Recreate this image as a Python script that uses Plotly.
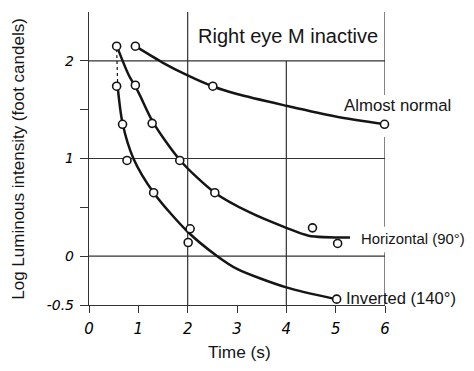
import plotly.graph_objects as go

# Measured points
normal_x = [0.94, 2.51, 5.99]
normal_y = [2.15, 1.74, 1.35]
horiz_x = [0.56, 0.94, 1.28, 1.84, 2.55, 4.53, 5.04]
horiz_y = [2.15, 1.75, 1.36, 0.98, 0.65, 0.29, 0.13]
inv_x = [0.56, 0.68, 0.77, 1.31, 2.05, 2.01, 5.02]
inv_y = [1.74, 1.35, 0.98, 0.65, 0.28, 0.14, -0.44]

# Fitted curves
normal_cx = [0.94, 1.5, 2.0, 2.5, 3.0, 4.0, 5.0, 6.0]
normal_cy = [2.15, 1.98, 1.85, 1.74, 1.66, 1.54, 1.43, 1.35]
horiz_cx = [0.58, 0.8, 1.0, 1.3, 1.85, 2.55, 3.25, 4.0, 4.45, 5.29]
horiz_cy = [2.13, 1.86, 1.68, 1.37, 0.98, 0.65, 0.45, 0.29, 0.21, 0.19]
inv_cx = [0.58, 0.68, 0.9, 1.31, 2.0, 2.6, 3.0, 4.0, 5.0]
inv_cy = [1.74, 1.36, 1.0, 0.65, 0.25, 0.0, -0.13, -0.32, -0.44]

# dashed connector
dash_x = [0.56, 0.58]
dash_y = [2.12, 1.78]

x_ticks = [0, 1, 2, 3, 4, 5, 6]
y_ticks = [-0.5, 0, 0.5, 1, 1.5, 2]
y_ticktext = ["-0.5", "0", "", "1", "", "2"]

INK = "#151515"
GRID = "#333333"
FONT = "Liberation Sans, Arial, sans-serif"

fig = go.Figure()

for cx, cy in [(normal_cx, normal_cy), (horiz_cx, horiz_cy), (inv_cx, inv_cy)]:
    fig.add_trace(go.Scatter(x=cx, y=cy, mode="lines", line=dict(color=INK, width=2.5, shape="spline", smoothing=0.8),
                             hoverinfo="skip", showlegend=False, cliponaxis=False))

fig.add_trace(go.Scatter(x=dash_x, y=dash_y, mode="lines", line=dict(color=INK, width=1.2, dash="3px,3px"),
                         showlegend=False, hoverinfo="skip"))

for px, py in [(normal_x, normal_y), (horiz_x, horiz_y), (inv_x, inv_y)]:
    fig.add_trace(go.Scatter(x=px, y=py, mode="markers",
                             marker=dict(symbol="circle", size=8, color="white", line=dict(color=INK, width=1.6)),
                             showlegend=False, cliponaxis=False))

# grid lines drawn as shapes
lines = [
    (0, 2, 6, 2), (0, 1, 6, 1), (0, 0, 6, 0),
    (2, -0.5, 2, 2.5), (4, -0.5, 4, 2.0),
    (6, 2.5, 6, 1.65), (6, 1.22, 6, 0.30), (6, 0.04, 6, -0.5),
]
for x0, y0, x1, y1 in lines:
    fig.add_shape(type="line", x0=x0, y0=y0, x1=x1, y1=y1, xref="x", yref="y",
                  line=dict(color=GRID, width=1.2), layer="below")

ann = dict(showarrow=False, xanchor="left", yanchor="middle")
fig.add_annotation(x=5.13, y=1.54, text="Almost normal", font=dict(family=FONT, size=16.8, color=INK), **ann)
fig.add_annotation(x=5.47, y=0.18, text="Horizontal (90°)", font=dict(family=FONT, size=14.9, color=INK), **ann)
fig.add_annotation(x=5.17, y=-0.43, text="Inverted (140°)", font=dict(family=FONT, size=16.6, color=INK), **ann)
fig.add_annotation(x=2.16, y=2.25, text="Right eye M inactive",
                   font=dict(family=FONT, size=20, color=INK), **ann)

fig.add_annotation(xref="paper", yref="paper", x=-0.239, y=0.5, text="Log Luminous intensity (foot candels)",
                   textangle=-90, font=dict(family=FONT, size=17, color=INK), showarrow=False,
                   xanchor="center", yanchor="middle")
fig.add_annotation(xref="paper", yref="paper", x=0.508, y=-0.160, text="Time (s)",
                   font=dict(family=FONT, size=17.3, color=INK), showarrow=False,
                   xanchor="center", yanchor="middle")

fig.update_xaxes(range=[0, 6], tickvals=x_ticks, showgrid=False, zeroline=False, showline=True,
                 linecolor=GRID, linewidth=1.4, ticks="outside", ticklen=7, tickcolor=GRID, tickwidth=1.4,
                 tickfont=dict(family="DejaVu Sans, sans-serif", size=15, color="#000", style="italic"),
                 ticklabelstandoff=3)
fig.update_yaxes(range=[-0.5, 2.5], tickvals=y_ticks, ticktext=y_ticktext, showgrid=False, zeroline=False,
                 showline=True, linecolor=GRID, linewidth=1.4, ticks="outside", ticklen=8, tickcolor=GRID,
                 tickwidth=1.4, tickfont=dict(family="DejaVu Sans, sans-serif", size=14, color="#000", style="italic"),
                 ticklabelstandoff=3)

# page body adds an 8px offset; keep the page from scrolling
fig.update_layout(width=466, height=355, margin=dict(l=81, r=89, t=4, b=58),
                  paper_bgcolor="white", plot_bgcolor="white")

fig.write_html("out.html")
